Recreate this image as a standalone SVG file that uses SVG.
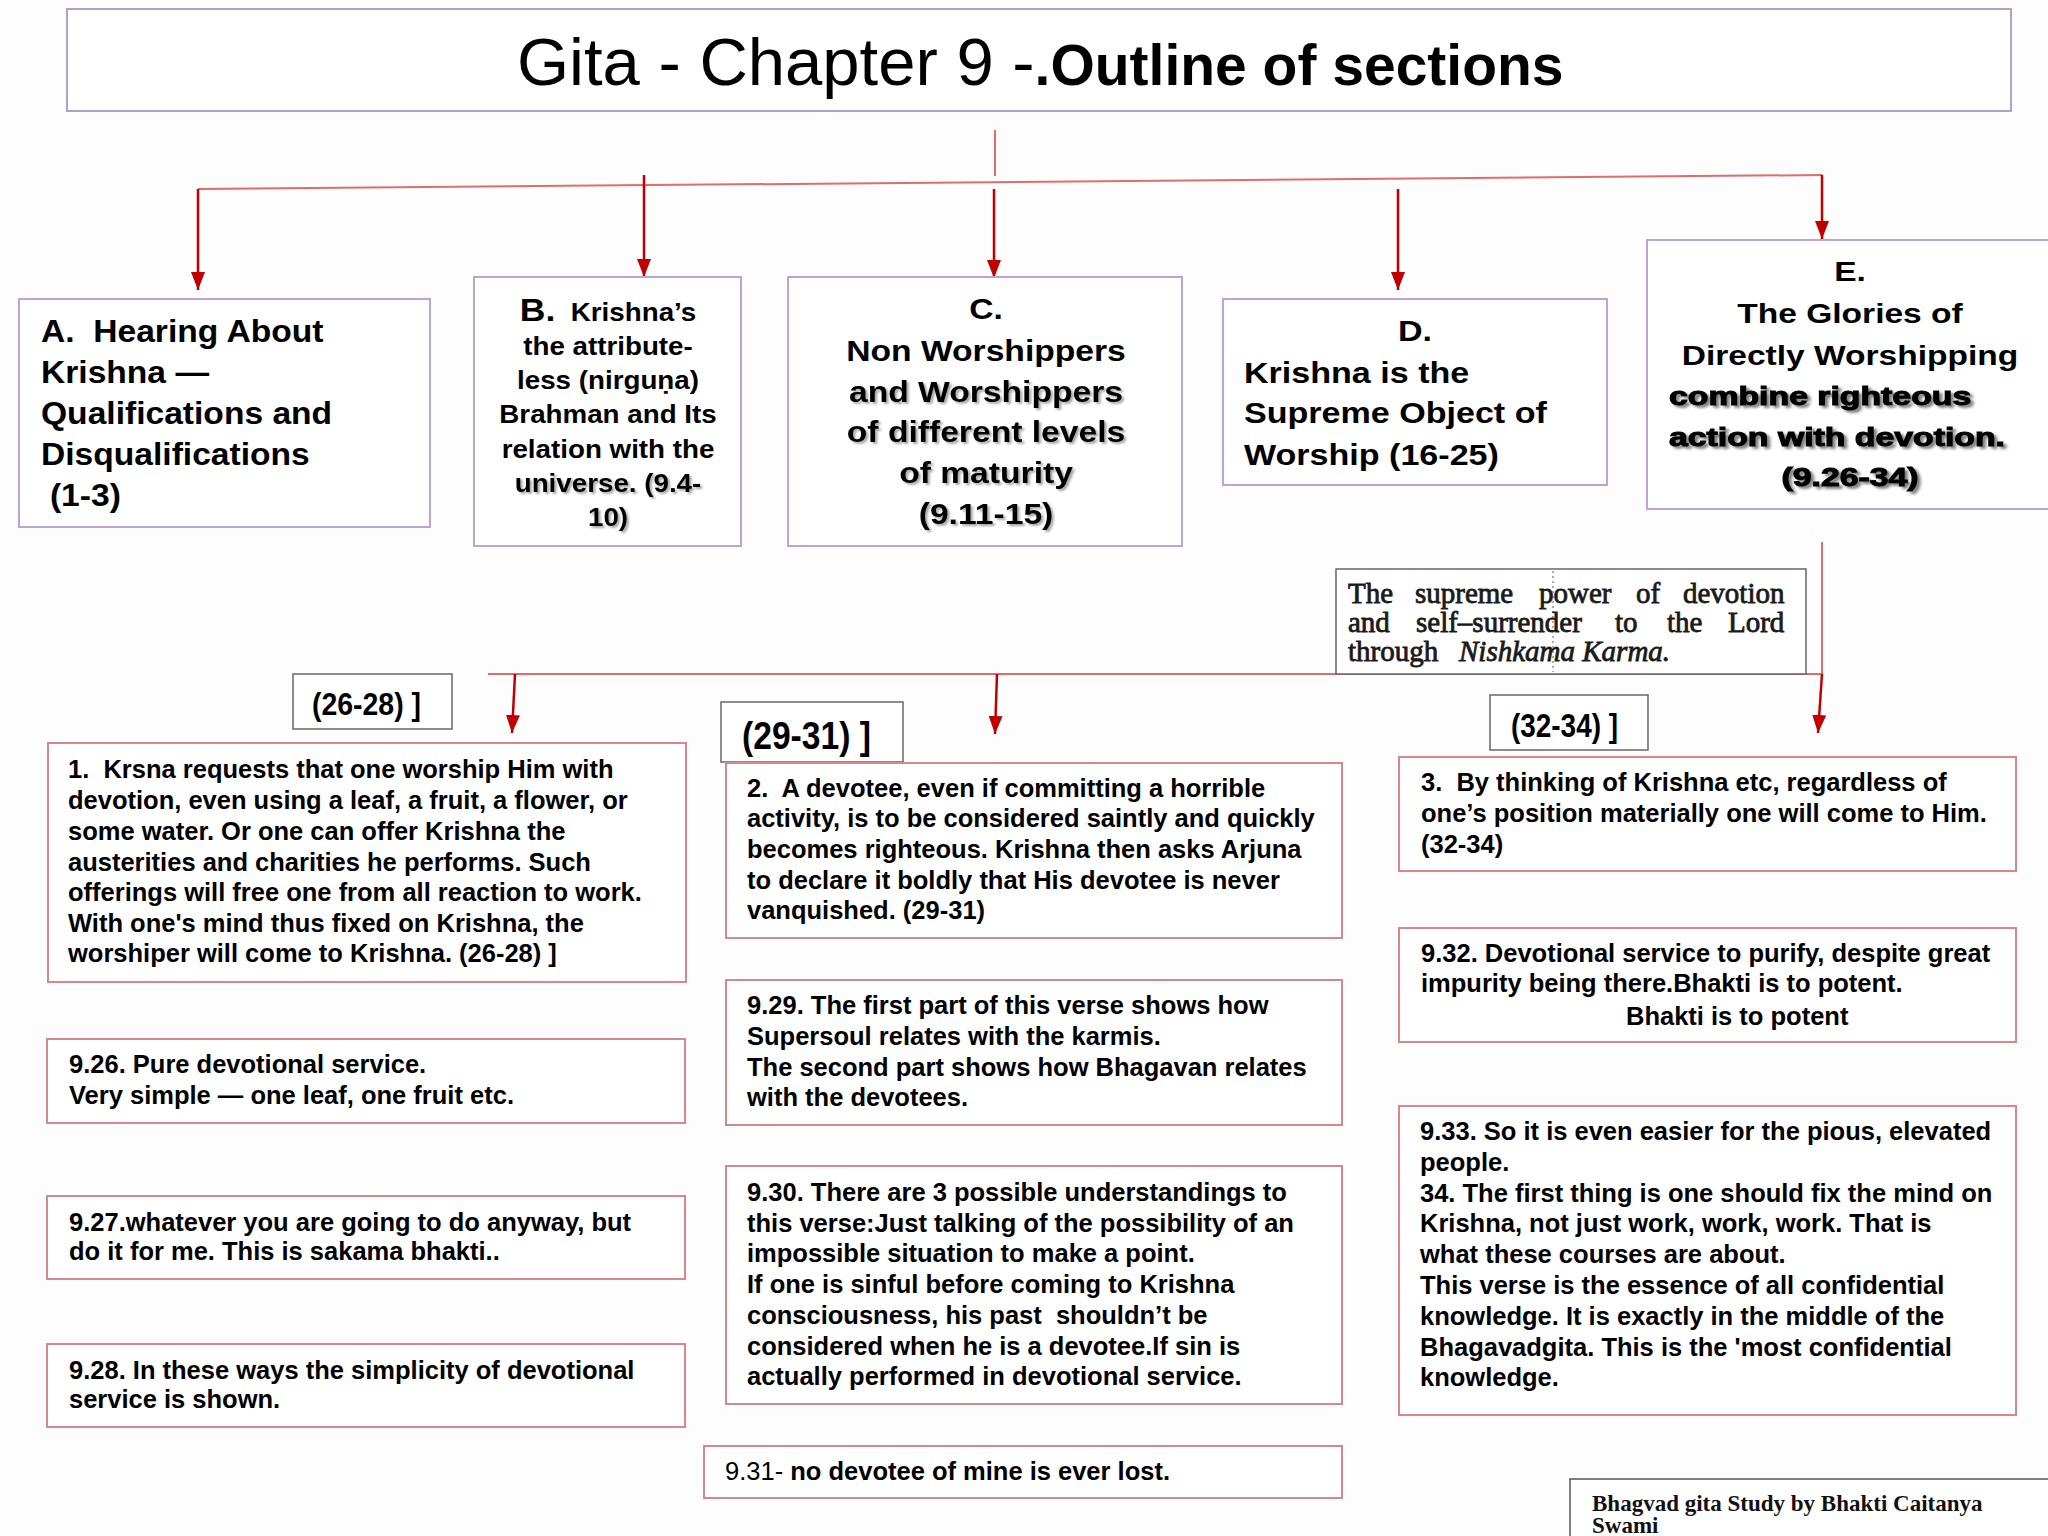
<svg xmlns="http://www.w3.org/2000/svg" width="2048" height="1536" viewBox="0 0 2048 1536">
<defs>
<marker id="ah" viewBox="0 0 18 14" refX="18" refY="7" markerWidth="18" markerHeight="14" markerUnits="userSpaceOnUse" orient="auto">
<path d="M0,0 L18,7 L0,14 z" fill="#c00000"/>
</marker>
<filter id="sh" x="-10%" y="-30%" width="120%" height="160%">
<feDropShadow dx="2" dy="2" stdDeviation="1" flood-color="#000" flood-opacity="0.35"/>
</filter>
<filter id="sh2" x="-10%" y="-30%" width="120%" height="160%">
<feDropShadow dx="2.5" dy="2.5" stdDeviation="1.2" flood-color="#000" flood-opacity="0.5"/>
</filter>
</defs>
<style>
.tb{fill:#fff;stroke:#b9a6d6;stroke-width:2}
.lb{fill:#fff;stroke:#d9868c;stroke-width:2}
.gb{fill:#fff;stroke:#707070;stroke-width:1.6}
.pk{stroke:#e26b6b;stroke-width:2;fill:none}
.ar{stroke:#c00000;stroke-width:2.5;fill:none}
.hd{font-family:'Liberation Sans',Arial,sans-serif;font-weight:bold;fill:#000}
.bd{font-family:'Liberation Sans',Arial,sans-serif;font-weight:bold;font-size:25.5px;fill:#000}
.sf{font-family:'Liberation Serif','Times New Roman',serif;font-size:29px;fill:#1a1a1a;stroke:#1a1a1a;stroke-width:0.8}
.hv{stroke:#000;stroke-width:1.1}
</style>
<rect x="0" y="0" width="2048" height="1536" fill="#fdfdfd"/>

<g id="title">
<rect x="67" y="9" width="1944" height="102" fill="#fff" stroke="#b0a2c8" stroke-width="2"/>
<text x="517" y="85" font-family="'Liberation Sans',Arial,sans-serif" font-size="67" fill="#000">Gita - Chapter 9 -<tspan font-weight="bold" font-size="57">.Outline of sections</tspan></text>
</g>

<g id="connectors">
<line class="pk" x1="995" y1="130" x2="995" y2="176"/>
<line class="pk" x1="198" y1="189" x2="1822" y2="175"/>
<line class="ar" x1="198" y1="189" x2="198" y2="290" marker-end="url(#ah)"/>
<line class="ar" x1="644" y1="175" x2="644" y2="277" marker-end="url(#ah)"/>
<line class="ar" x1="994" y1="189" x2="994" y2="278" marker-end="url(#ah)"/>
<line class="ar" x1="1398" y1="189" x2="1398" y2="290" marker-end="url(#ah)"/>
<line class="ar" x1="1822" y1="175" x2="1822" y2="239" marker-end="url(#ah)"/>
<line class="pk" x1="1822" y1="542" x2="1822" y2="674"/>
<line class="pk" x1="488" y1="674" x2="1822" y2="674"/>
<line class="ar" x1="515" y1="674" x2="512" y2="733" marker-end="url(#ah)"/>
<line class="ar" x1="997" y1="674" x2="995" y2="734" marker-end="url(#ah)"/>
<line class="ar" x1="1822" y1="674" x2="1818" y2="733" marker-end="url(#ah)"/>
</g>

<g id="nodeA">
<rect class="tb" x="19" y="299" width="411" height="228"/>
<g transform="translate(41,0) scale(1.05,1)">
<text class="hd" font-size="32" xml:space="preserve"><tspan x="0" y="342">A.  Hearing About</tspan><tspan x="0" y="383">Krishna —</tspan><tspan x="0" y="424">Qualifications and</tspan><tspan x="0" y="465">Disqualifications</tspan><tspan x="8.5" y="506.5">(1-3)</tspan></text>
</g>
</g>

<g id="nodeB">
<rect class="tb" x="474" y="277" width="267" height="269"/>
<g transform="translate(608,0) scale(1.11,1)">
<text class="hd" font-size="25" text-anchor="middle" xml:space="preserve"><tspan x="0" y="321"><tspan font-size="32">B.</tspan>  Krishna’s</tspan><tspan x="0" y="355.5">the attribute-</tspan><tspan x="0" y="389">less (nirguṇa)</tspan><tspan x="0" y="423.5">Brahman and Its</tspan><tspan x="0" y="458">relation with the</tspan></text>
<text class="hd" font-size="25" text-anchor="middle" filter="url(#sh)"><tspan x="0" y="492.5">universe. (9.4-</tspan><tspan x="0" y="526.5">10)</tspan></text>
</g>
</g>

<g id="nodeC">
<rect class="tb" x="788" y="277" width="394" height="269"/>
<g transform="translate(986,0) scale(1.14,1)">
<text class="hd" font-size="29.5" text-anchor="middle"><tspan x="0" y="319.5">C.</tspan><tspan x="0" y="361.5">Non Worshippers</tspan></text>
<text class="hd" font-size="29.5" text-anchor="middle" filter="url(#sh)"><tspan x="0" y="402.5">and Worshippers</tspan><tspan x="0" y="442.5">of different levels</tspan><tspan x="0" y="483.5">of maturity</tspan><tspan x="0" y="524">(9.11-15)</tspan></text>
</g>
</g>

<g id="nodeD">
<rect class="tb" x="1223" y="299" width="384" height="186"/>
<g transform="translate(1244,0) scale(1.175,1)">
<text class="hd" font-size="29"><tspan x="145.5" y="341.5" text-anchor="middle">D.</tspan></text>
<text class="hd" font-size="29"><tspan x="0" y="383.5">Krishna is the</tspan><tspan x="0" y="423.5">Supreme Object of</tspan><tspan x="0" y="465">Worship (16-25)</tspan></text>
</g>
</g>

<g id="nodeE">
<rect class="tb" x="1647" y="240" width="420" height="269"/>
<g transform="translate(1850,0) scale(1.22,1)">
<text class="hd" font-size="27.5" text-anchor="middle"><tspan x="0" y="281.5">E.</tspan><tspan x="0" y="323.5">The Glories of</tspan><tspan x="0" y="365.5">Directly Worshipping</tspan></text>
</g>
<g transform="translate(1669,0) scale(1.3,1)">
<text class="hd hv" font-size="26" filter="url(#sh2)"><tspan x="0" y="405.5">combine righteous</tspan><tspan x="0" y="446">action with devotion.</tspan></text>
</g>
<g transform="translate(1850,0) scale(1.3,1)">
<text class="hd hv" font-size="26" text-anchor="middle" filter="url(#sh2)" x="0" y="486.5">(9.26-34)</text>
</g>
</g>

<g id="callout">
<rect x="1336" y="569" width="470" height="105" fill="#fff" stroke="#666" stroke-width="1.5"/>
<line x1="1553" y1="571" x2="1553" y2="672" stroke="#777" stroke-width="1.2" stroke-dasharray="2 3"/>
<text class="sf" y="603"><tspan x="1348">The</tspan><tspan x="1415">supreme</tspan><tspan x="1539">power</tspan><tspan x="1636">of</tspan><tspan x="1683">devotion</tspan></text>
<text class="sf" y="632"><tspan x="1348">and</tspan><tspan x="1416">self–surrender</tspan><tspan x="1615">to</tspan><tspan x="1667">the</tspan><tspan x="1728">Lord</tspan></text>
<text class="sf" y="661"><tspan x="1348">through </tspan><tspan x="1459" font-style="italic">Nishkama Karma.</tspan></text>
</g>

<g id="label-26-28">
<rect class="gb" x="293" y="674" width="159" height="55"/>
<text class="hd" font-size="31" x="312" y="715" textLength="109" lengthAdjust="spacingAndGlyphs">(26-28) ]</text>
</g>
<g id="label-29-31">
<rect class="gb" x="721" y="702" width="182" height="60"/>
<text class="hd" font-size="39" x="742" y="749" textLength="129" lengthAdjust="spacingAndGlyphs">(29-31) ]</text>
</g>
<g id="label-32-34">
<rect class="gb" x="1490" y="695" width="158" height="55"/>
<text class="hd" font-size="33" x="1511" y="737" textLength="107" lengthAdjust="spacingAndGlyphs">(32-34) ]</text>
</g>

<g id="box1">
<rect class="lb" x="48" y="743" width="638" height="239"/>
<text class="bd" xml:space="preserve"><tspan x="68" y="778">1.  Krsna requests that one worship Him with</tspan><tspan x="68" y="809">devotion, even using a leaf, a fruit, a flower, or</tspan><tspan x="68" y="840">some water. Or one can offer Krishna the</tspan><tspan x="68" y="871">austerities and charities he performs. Such</tspan><tspan x="68" y="901">offerings will free one from all reaction to work.</tspan><tspan x="68" y="932">With one's mind thus fixed on Krishna, the</tspan><tspan x="68" y="962">worshiper will come to Krishna. (26-28) ]</tspan></text>
</g>

<g id="box926">
<rect class="lb" x="47" y="1039" width="638" height="84"/>
<text class="bd"><tspan x="69" y="1073">9.26. Pure devotional service.</tspan><tspan x="69" y="1104">Very simple — one leaf, one fruit etc.</tspan></text>
</g>

<g id="box927">
<rect class="lb" x="47" y="1196" width="638" height="83"/>
<text class="bd"><tspan x="69" y="1231">9.27.whatever you are going to do anyway, but</tspan><tspan x="69" y="1260">do it for me. This is sakama bhakti..</tspan></text>
</g>

<g id="box928">
<rect class="lb" x="47" y="1344" width="638" height="83"/>
<text class="bd"><tspan x="69" y="1379">9.28. In these ways the simplicity of devotional</tspan><tspan x="69" y="1408">service is shown.</tspan></text>
</g>

<g id="box2">
<rect class="lb" x="726" y="763" width="616" height="175"/>
<text class="bd" xml:space="preserve"><tspan x="747" y="797">2.  A devotee, even if committing a horrible</tspan><tspan x="747" y="827">activity, is to be considered saintly and quickly</tspan><tspan x="747" y="858">becomes righteous. Krishna then asks Arjuna</tspan><tspan x="747" y="889">to declare it boldly that His devotee is never</tspan><tspan x="747" y="919">vanquished. (29-31)</tspan></text>
</g>

<g id="box929">
<rect class="lb" x="726" y="980" width="616" height="145"/>
<text class="bd"><tspan x="747" y="1014">9.29. The first part of this verse shows how</tspan><tspan x="747" y="1045">Supersoul relates with the karmis.</tspan><tspan x="747" y="1076">The second part shows how Bhagavan relates</tspan><tspan x="747" y="1106">with the devotees.</tspan></text>
</g>

<g id="box930">
<rect class="lb" x="726" y="1166" width="616" height="238"/>
<text class="bd" xml:space="preserve"><tspan x="747" y="1201">9.30. There are 3 possible understandings to</tspan><tspan x="747" y="1232">this verse:Just talking of the possibility of an</tspan><tspan x="747" y="1262">impossible situation to make a point.</tspan><tspan x="747" y="1293">If one is sinful before coming to Krishna</tspan><tspan x="747" y="1324">consciousness, his past  shouldn’t be</tspan><tspan x="747" y="1355">considered when he is a devotee.If sin is</tspan><tspan x="747" y="1385">actually performed in devotional service.</tspan></text>
</g>

<g id="box931">
<rect class="lb" x="704" y="1446" width="638" height="52"/>
<text class="bd" x="725" y="1480"><tspan font-weight="normal">9.31-</tspan> no devotee of mine is ever lost.</text>
</g>

<g id="box3">
<rect class="lb" x="1399" y="757" width="617" height="114"/>
<text class="bd" xml:space="preserve"><tspan x="1421" y="791">3.  By thinking of Krishna etc, regardless of</tspan><tspan x="1421" y="822">one’s position materially one will come to Him.</tspan><tspan x="1421" y="853">(32-34)</tspan></text>
</g>

<g id="box932">
<rect class="lb" x="1399" y="928" width="617" height="114"/>
<text class="bd"><tspan x="1421" y="962">9.32. Devotional service to purify, despite great</tspan><tspan x="1421" y="992">impurity being there.Bhakti is to potent.</tspan><tspan x="1626" y="1025">Bhakti is to potent</tspan></text>
</g>

<g id="box933">
<rect class="lb" x="1399" y="1106" width="617" height="309"/>
<text class="bd"><tspan x="1420" y="1140">9.33. So it is even easier for the pious, elevated</tspan><tspan x="1420" y="1171">people.</tspan><tspan x="1420" y="1202">34. The first thing is one should fix the mind on</tspan><tspan x="1420" y="1232">Krishna, not just work, work, work. That is</tspan><tspan x="1420" y="1263">what these courses are about.</tspan><tspan x="1420" y="1294">This verse is the essence of all confidential</tspan><tspan x="1420" y="1325">knowledge. It is exactly in the middle of the</tspan><tspan x="1420" y="1356">Bhagavadgita. This is the 'most confidential</tspan><tspan x="1420" y="1386">knowledge.</tspan></text>
</g>

<g id="footer">
<rect x="1570" y="1479" width="500" height="80" fill="#fff" stroke="#555" stroke-width="1.5"/>
<text font-family="'Liberation Serif','Times New Roman',serif" font-weight="bold" font-size="23" fill="#111"><tspan x="1592" y="1511">Bhagvad gita Study by Bhakti Caitanya</tspan><tspan x="1592" y="1533">Swami</tspan></text>
</g>
</svg>
